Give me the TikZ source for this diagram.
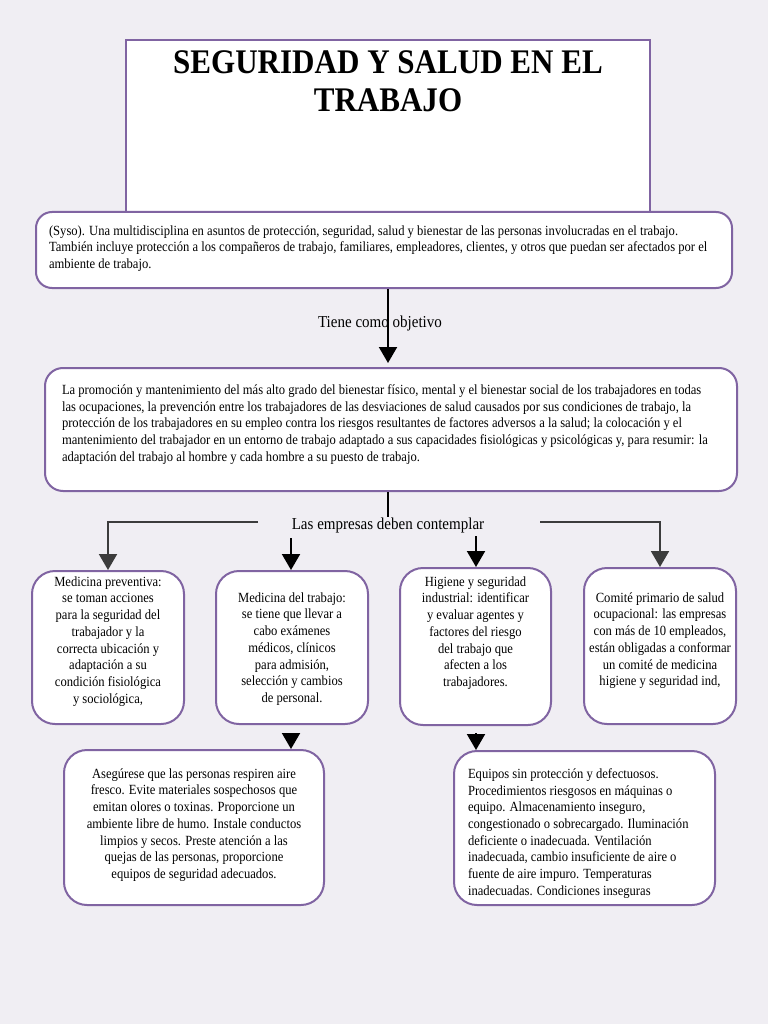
\documentclass[tikz,border=0pt]{standalone}
\usepackage{fontspec}
\setmainfont[FakeStretch=0.9]{Liberation Serif}
\usetikzlibrary{arrows.meta}
\definecolor{paper}{HTML}{F0EEF3}
\definecolor{boxline}{HTML}{8064A2}
\definecolor{branchgray}{HTML}{3C3C3C}
\newcommand{\cardtext}[3]{\parbox[c][#2][t]{#1}{#3}}

\begin{document}
\begin{tikzpicture}[x=1pt,y=-1pt,
		card/.style={draw=boxline,line width=2pt,fill=white,rounded corners=23pt,anchor=north west,font=\fontsize{14}{16.7}\selectfont},
		conn/.style={line width=2pt,-{Triangle[width=18pt,length=16pt]}},
		linklabel/.style={font=\fontsize{16.7}{20}\selectfont,inner sep=0pt}]
	\fill[paper] (0,0) rectangle (768,1024);
	\useasboundingbox (0,0) rectangle (768,1024);
	\node[card,sharp corners,inner xsep=10pt,inner ysep=11pt] (title) at (125,39)
		{\cardtext{504pt}{150pt}{\centering\fontsize{34.5}{38}\selectfont\bfseries SEGURIDAD Y SALUD EN EL\\TRABAJO}};
	\node[card,rounded corners=16pt,inner xsep=13pt,inner ysep=13.5pt] (syso) at (35,211)
		{\cardtext{670pt}{49pt}{\raggedright (Syso). Una multidisciplina en asuntos de protección, seguridad, salud y bienestar de las personas involucradas en el trabajo.\\
		También incluye protección a los compañeros de trabajo, familiares, empleadores, clientes, y otros que puedan ser afectados por el\\
		ambiente de trabajo.}};
	\node[card,rounded corners=18pt,inner xsep=17pt,inner ysep=16.5pt] (objetivo) at (44,367)
		{\cardtext{658pt}{90pt}{\raggedright La promoción y mantenimiento del más alto grado del bienestar físico, mental y el bienestar social de los trabajadores en todas\\
		las ocupaciones, la prevención entre los trabajadores de las desviaciones de salud causados por sus condiciones de trabajo, la\\
		protección de los trabajadores en su empleo contra los riesgos resultantes de factores adversos a la salud; la colocación y el\\
		mantenimiento del trabajador en un entorno de trabajo adaptado a sus capacidades fisiológicas y psicológicas y, para resumir: la\\
		adaptación del trabajo al hombre y cada hombre a su puesto de trabajo.}};
	\node[card,inner xsep=6pt,inner ysep=5.5pt] (prev) at (31,570)
		{\cardtext{140pt}{142pt}{\centering Medicina preventiva:\\se  toman acciones\\para la  seguridad del\\trabajador  y la\\correcta ubicación  y\\adaptación a su\\condición fisiológica\\y  sociológica,}};
	\node[card,inner xsep=6pt,inner ysep=21.5pt] (medtrab) at (215,570)
		{\cardtext{140pt}{110pt}{\centering Medicina del trabajo:\\se  tiene que llevar a\\cabo  exámenes\\médicos,  clínicos\\para admisión,\\selección y cambios\\de  personal.}};
	\node[card,inner xsep=6pt,inner ysep=8.5pt] (higiene) at (399,567)
		{\cardtext{139pt}{140pt}{\centering Higiene y seguridad\\industrial: identificar\\y  evaluar agentes y\\factores del riesgo\\del  trabajo que\\afecten a  los\\trabajadores.}};
	\node[card,inner xsep=-5pt,inner ysep=24.5pt] (comite) at (583,567)
		{\cardtext{162pt}{107pt}{\centering Comité primario de salud\\ocupacional: las  empresas\\con más de 10  empleados,\\están  obligadas a conformar\\un comité de medicina\\higiene y seguridad ind,}};
	\node[card,inner xsep=10pt,inner ysep=18.5pt] (aire) at (63,749)
		{\cardtext{240pt}{118pt}{\centering Asegúrese que las personas respiren aire\\fresco.  Evite materiales sospechosos que\\emitan olores  o toxinas. Proporcione un\\ambiente libre de  humo. Instale conductos\\limpios y secos. Preste  atención a las\\quejas de las personas,  proporcione\\equipos de seguridad adecuados.}};
	\node[card,inner xsep=14pt,inner ysep=17.5pt] (equipos) at (453,750)
		{\cardtext{233pt}{119pt}{\raggedright Equipos sin protección y defectuosos.\\Procedimientos riesgosos en máquinas o\\equipo.  Almacenamiento inseguro,\\congestionado o  sobrecargado. Iluminación\\deficiente o  inadecuada. Ventilación\\inadecuada, cambio  insuficiente de aire o\\fuente de aire impuro. Temperaturas\\inadecuadas. Condiciones inseguras}};
	\draw[conn,shorten >=4pt] (title.south |- syso.south) -- (title.south |- objetivo.north);
	\node[linklabel] (tiene) at (380,323) {Tiene como objetivo};
	\node[linklabel] (deben) at (388,525) {Las empresas deben contemplar};
	\draw[line width=2pt] (title.south |- objetivo.south) -- (title.south |- deben.north);
	\coordinate (leftend) at (258,522);
	\coordinate (rightend) at (540,522);
	\coordinate (midB) at (291,538);
	\coordinate (midC) at (476,536);
	\draw[conn,branchgray] (leftend) -| (prev.north);
	\draw[conn,branchgray] (rightend) -| (comite.north);
	\draw[conn] (midB) -- (midB |- medtrab.north);
	\draw[conn] (midC) -- (midC |- higiene.north);
	\draw[conn,shorten <=8pt] (midB |- medtrab.south) -- (midB |- aire.north);
	\draw[conn,shorten <=7pt] (midC |- higiene.south) -- (midC |- equipos.north);
\end{tikzpicture}
\end{document}
